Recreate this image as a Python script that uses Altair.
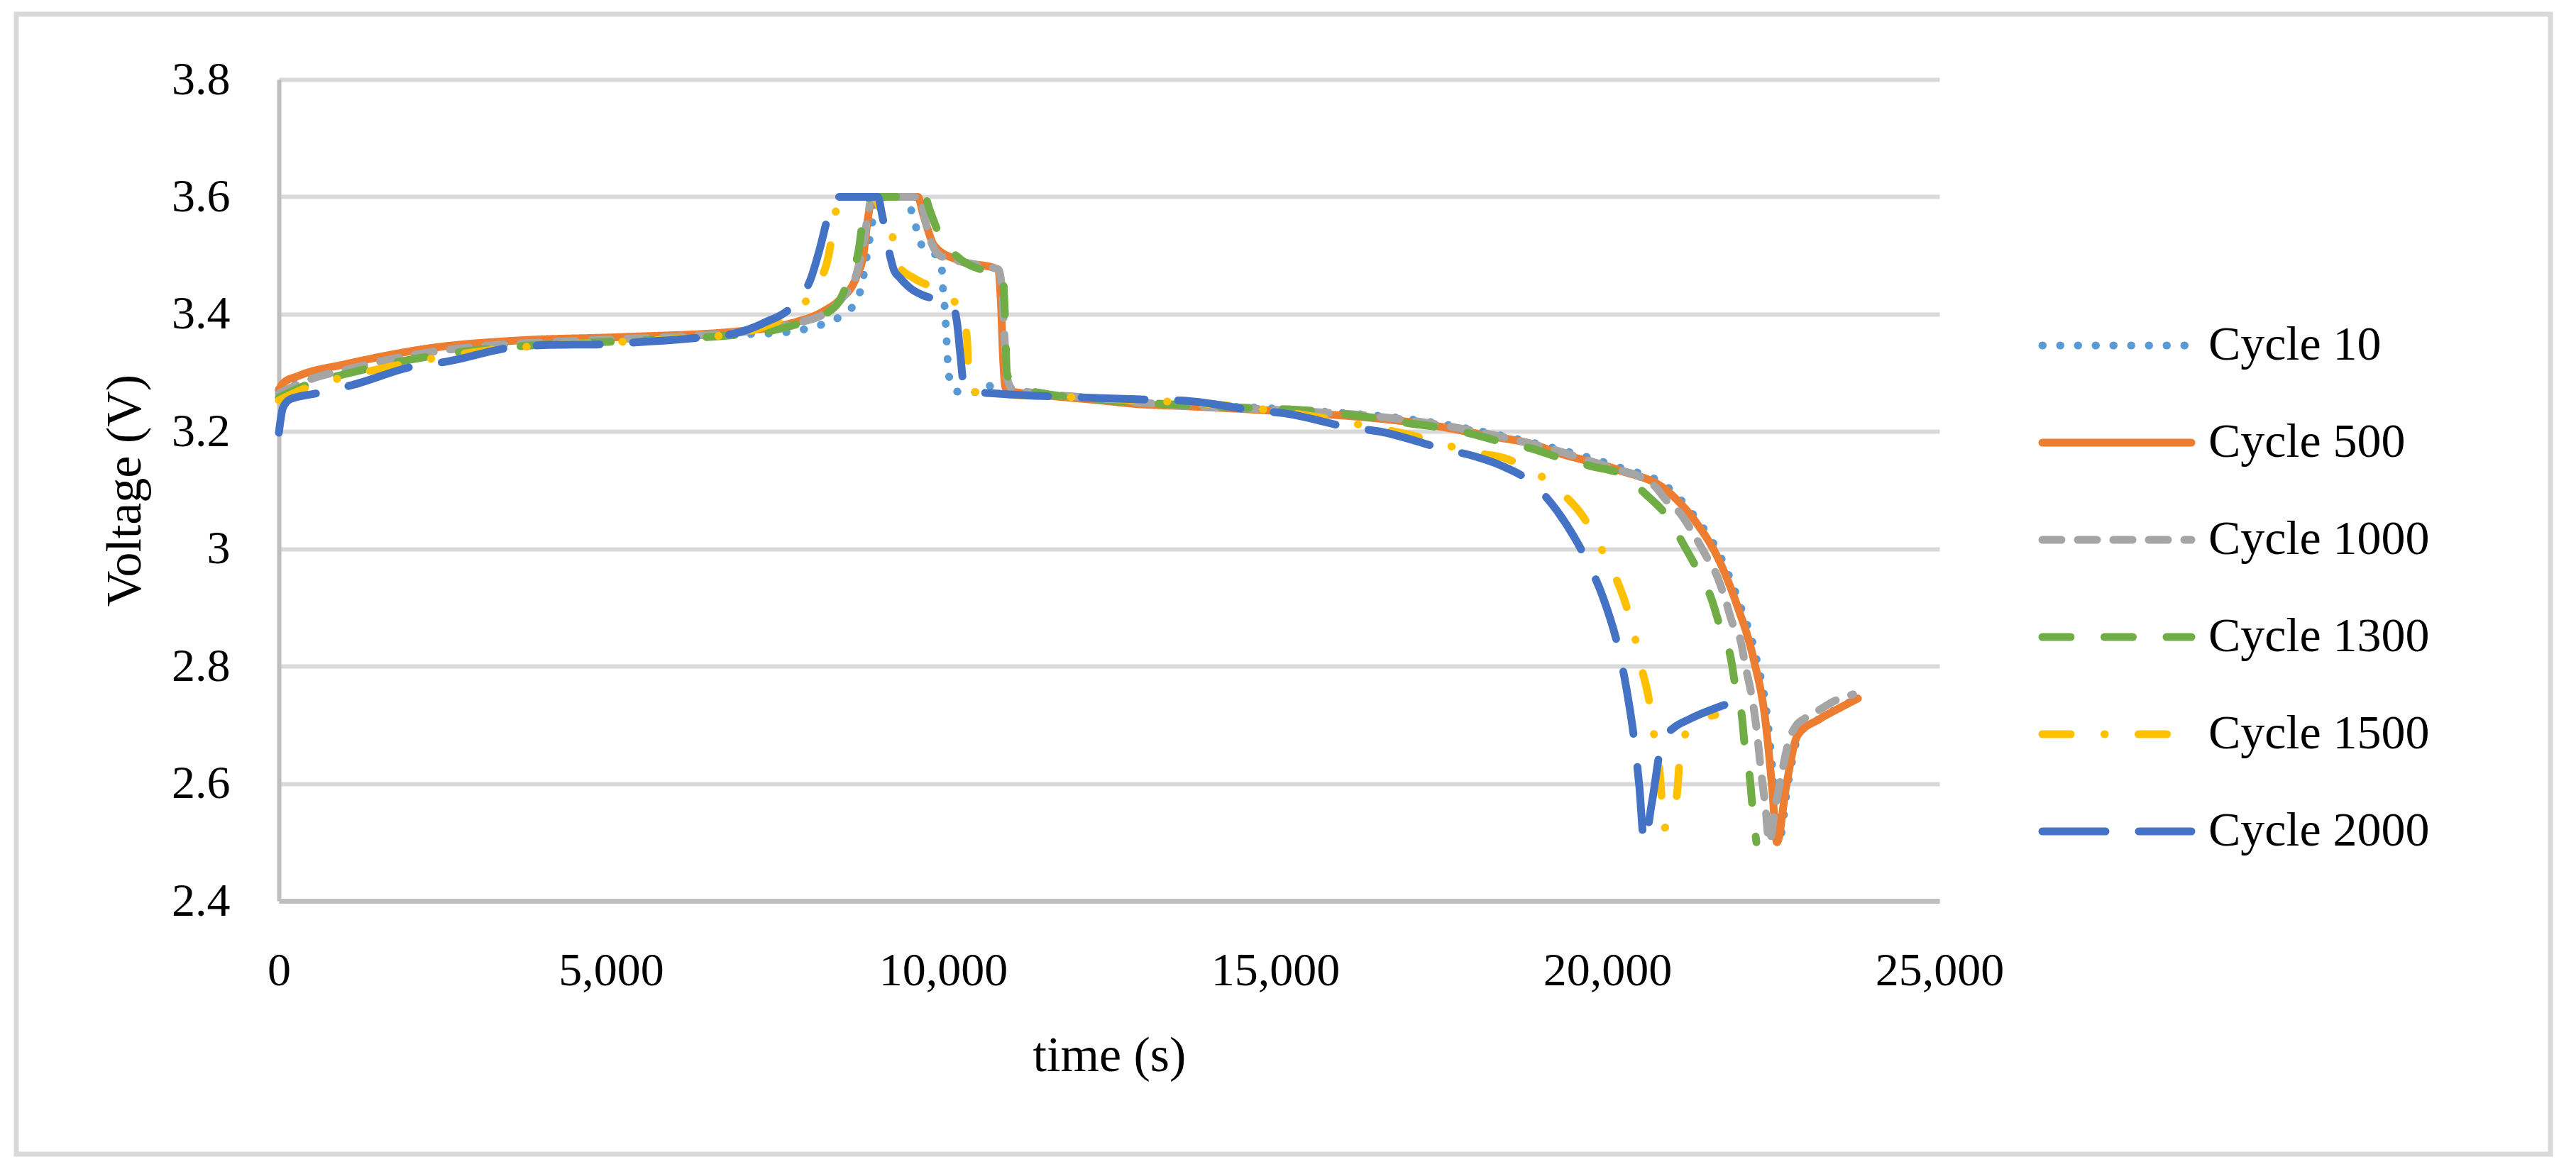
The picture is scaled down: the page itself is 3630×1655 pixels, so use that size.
import altair as alt
import pandas as pd

# ---------------- data ----------------
series_names = ["Cycle 10", "Cycle 500", "Cycle 1000", "Cycle 1300", "Cycle 1500", "Cycle 2000"]
series_colors = ["#5B9BD5", "#ED7D31", "#A5A5A5", "#70AD47", "#FFC000", "#4472C4"]
series_dashes = [[0.5, 24.5], [1, 0], [27, 23], [40, 47.5], [40, 47.5, 0.5, 47.5], [89, 47]]

x_ticks = [0, 5000, 10000, 15000, 20000, 25000]
y_ticks = [2.4, 2.6, 2.8, 3.0, 3.2, 3.4, 3.6, 3.8]

c10_t = [0, 200, 1000, 2000, 3000, 4000, 5000, 6000, 7000, 7373, 8195, 8440, 8654, 8761, 8810,
         8857, 8900, 8942, 8990, 9450, 9530, 9600, 9680, 9893, 9982, 9996, 10021, 10039, 10053,
         10067, 10089, 10207, 10474, 10652, 10791, 11100, 12361, 12896, 15139, 17394, 18238,
         19189, 20150, 20909, 21336, 21690, 21980, 22230, 22410, 22505, 22580, 22720, 22890,
         23220, 23500, 23790]
c10_v = [3.272, 3.288, 3.312, 3.335, 3.348, 3.353, 3.358, 3.362, 3.366, 3.367, 3.383, 3.395,
         3.416, 3.443, 3.47, 3.503, 3.533, 3.563, 3.6, 3.6, 3.573, 3.545, 3.517, 3.50, 3.475,
         3.446, 3.416, 3.384, 3.354, 3.324, 3.294, 3.268, 3.267, 3.28, 3.271, 3.265, 3.256, 3.25,
         3.238, 3.215, 3.197, 3.172, 3.14, 3.105, 3.052, 2.99, 2.91, 2.82, 2.71, 2.60, 2.50,
         2.60, 2.685, 2.712, 2.73, 2.747]

c500_t = [0, 60, 300, 1015, 2340, 3580, 5171, 6944, 7660, 8200, 8440, 8696, 8803, 8860, 8930,
          8980, 9620, 9700, 9872, 10225, 10831, 10870, 10905, 10940, 11050, 11500, 12361, 12896,
          13675, 15139, 17394, 18238, 18890, 19189, 20150, 20909, 21336, 21667, 21955, 22200,
          22383, 22479, 22554, 22693, 22864, 23196, 23484, 23772]
c500_v = [3.27, 3.282, 3.295, 3.315, 3.343, 3.355, 3.361, 3.371, 3.383, 3.405, 3.424, 3.464,
          3.504, 3.557, 3.597, 3.6, 3.6, 3.57, 3.516, 3.492, 3.476, 3.42, 3.32, 3.275, 3.268,
          3.262, 3.253, 3.247, 3.243, 3.234, 3.21, 3.192, 3.178, 3.166, 3.135, 3.098, 3.045,
          2.984, 2.903, 2.813, 2.704, 2.596, 2.50, 2.596, 2.682, 2.71, 2.728, 2.745]

c1000_t = [0, 500, 1000, 2000, 3000, 4000, 5000, 6000, 7000, 7800, 8200, 8500, 8700, 8800,
           8870, 8930, 9650, 9720, 9830, 9950, 10250, 10600, 10831, 10880, 10930, 10965, 11050,
           12361, 12896, 15139, 16500, 17394, 18238, 19189, 20150, 20428, 20738, 20855, 21100,
           21300, 21486, 21646, 21770, 21882, 22010, 22080, 22180, 22250, 22310, 22380, 22436,
           22530, 22630, 22740, 22850, 22960, 23228, 23388, 23700]
c1000_v = [3.265, 3.29, 3.305, 3.33, 3.345, 3.352, 3.357, 3.362, 3.37, 3.385, 3.40, 3.43, 3.47,
           3.52, 3.57, 3.6, 3.6, 3.565, 3.52, 3.50, 3.49, 3.482, 3.476, 3.45, 3.35, 3.29, 3.272,
           3.256, 3.25, 3.236, 3.226, 3.213, 3.195, 3.169, 3.135, 3.126, 3.104, 3.087, 3.06,
           3.025, 2.988, 2.955, 2.916, 2.874, 2.842, 2.80, 2.745, 2.69, 2.625, 2.56, 2.50, 2.56,
           2.62, 2.675, 2.70, 2.71, 2.728, 2.739, 2.752]

c1300_t = [0, 500, 1000, 2000, 3000, 4000, 5000, 6000, 7000, 7500, 7950, 8376, 8590, 8730,
           8800, 8850, 8900, 9723, 9800, 9936, 10257, 10652, 10898, 10930, 10960, 11047, 11500,
           12896, 14000, 15673, 16571, 17020, 17468, 17992, 18410, 18890, 19263, 19755, 20236,
           20578, 20909, 21144, 21358, 21570, 21700, 21860, 21934, 22030, 22073, 22148, 22190,
           22244]
c1300_v = [3.258, 3.283, 3.298, 3.323, 3.339, 3.348, 3.353, 3.358, 3.366, 3.374, 3.389, 3.413,
           3.462, 3.51, 3.567, 3.589, 3.6, 3.6, 3.577, 3.537, 3.494, 3.473, 3.464, 3.40, 3.30,
           3.279, 3.265, 3.25, 3.243, 3.234, 3.222, 3.214, 3.207, 3.195, 3.182, 3.17, 3.156,
           3.141, 3.126, 3.093, 3.054, 3.008, 2.964, 2.914, 2.866, 2.813, 2.761, 2.71, 2.658,
           2.607, 2.553, 2.50]

c1500_t = [0, 500, 1000, 2000, 3000, 4000, 5000, 6000, 7000, 7400, 7767, 8088, 8270, 8355,
           8430, 8960, 9050, 9188, 9295, 9360, 9552, 9990, 10250, 10300, 10363, 10385, 10450,
           10727, 12000, 13000, 14000, 15080, 16571, 17000, 17543, 17992, 18440, 18890, 19338,
           19616, 19883, 20118, 20268, 20407, 20524, 20620, 20695, 20780, 20815, 20850, 20940,
           21048, 21090, 21240, 21625]
c1500_v = [3.253, 3.278, 3.293, 3.318, 3.336, 3.347, 3.352, 3.358, 3.369, 3.383, 3.404, 3.448,
           3.497, 3.552, 3.6, 3.6, 3.58, 3.558, 3.50, 3.478, 3.462, 3.436, 3.41, 3.40, 3.352,
           3.292, 3.268, 3.265, 3.258, 3.253, 3.247, 3.234, 3.205, 3.195, 3.178, 3.164, 3.155,
           3.132, 3.093, 3.058, 3.006, 2.953, 2.909, 2.853, 2.793, 2.747, 2.689, 2.63, 2.58,
           2.524, 2.54, 2.581, 2.641, 2.697, 2.717]

c2000_t = [0, 60, 171, 566, 1100, 2030, 2520, 3494, 3930, 4957, 5395, 6421, 6860, 7300, 7746,
           8013, 8140, 8270, 8380, 9017, 9080, 9124, 9200, 9260, 9350, 9509, 9700, 9936, 10150,
           10210, 10260, 10310, 10400, 10759, 12896, 13686, 14690, 15139, 16122, 16571, 17543,
           17992, 18400, 18879, 19242, 19712, 19926, 20193, 20289, 20428, 20481, 20556, 20674,
           20834, 21000, 21240, 21763]
c2000_v = [3.198, 3.24, 3.255, 3.265, 3.279, 3.311, 3.319, 3.343, 3.347, 3.349, 3.352, 3.361,
           3.367, 3.385, 3.416, 3.462, 3.51, 3.567, 3.6, 3.6, 3.57, 3.545, 3.50, 3.475, 3.462,
           3.444, 3.432, 3.424, 3.413, 3.385, 3.33, 3.28, 3.268, 3.265, 3.255, 3.252, 3.236,
           3.231, 3.207, 3.20, 3.17, 3.158, 3.142, 3.111, 3.065, 2.975, 2.92, 2.817, 2.761,
           2.653, 2.596, 2.50, 2.57, 2.675, 2.695, 2.71, 2.734]

series_t = [c10_t, c500_t, c1000_t, c1300_t, c1500_t, c2000_t]
series_v = [c10_v, c500_v, c1000_v, c1300_v, c1500_v, c2000_v]

frames = []
for name, ts, vs in zip(series_names, series_t, series_v):
    frames.append(pd.DataFrame({"time": ts, "voltage": vs, "series": name}))
df = pd.concat(frames, ignore_index=True)
legend_df = pd.DataFrame({"series": series_names})

# ---------------- chart ----------------
FONT = "Liberation Serif"
PLOT_W, PLOT_H = 2340, 1158

color_scale = alt.Scale(domain=series_names, range=series_colors)
dash_scale = alt.Scale(domain=series_names, range=series_dashes)

lines = alt.Chart(df).mark_line(
    strokeWidth=11, strokeCap="round", strokeJoin="round", interpolate="monotone"
).encode(
    x=alt.X("time:Q", title="time (s)",
            scale=alt.Scale(domain=[0, 25000], nice=False, zero=False),
            axis=alt.Axis(values=x_ticks, format=",.0f", grid=False, ticks=False,
                          labelFlush=False, labelOverlap=False,
                          domainColor="#BFBFBF", domainWidth=7, labelPadding=66,
                          labelLimit=400, titlePadding=53)),
    y=alt.Y("voltage:Q", title="Voltage (V)",
            scale=alt.Scale(domain=[2.4, 3.8], nice=False, zero=False),
            axis=alt.Axis(values=y_ticks, format=".1~f", grid=True, ticks=False,
                          labelFlush=False, labelOverlap=False,
                          gridColor="#D9D9D9", gridWidth=6,
                          domainColor="#BFBFBF", domainWidth=6, labelPadding=69,
                          labelLimit=400, titlePadding=29)),
    color=alt.Color("series:N", scale=color_scale, legend=None),
    strokeDash=alt.StrokeDash("series:N", scale=dash_scale, legend=None),
)

# legend drawn as its own small layer: one row per series on a point scale
# (point scale keeps its default half-step padding, so rows land 137 px apart from y=375)
leg_y = alt.Y("series:N",
              scale=alt.Scale(domain=series_names, range=[306.5, 1128.5]),
              axis=None)
leg_rule = alt.Chart(legend_df).mark_rule(
    strokeWidth=11, strokeCap="round"
).encode(
    y=leg_y,
    x=alt.value(2485), x2=alt.value(2695),
    color=alt.Color("series:N", scale=color_scale, legend=None),
    strokeDash=alt.StrokeDash("series:N", scale=dash_scale, legend=None),
)
leg_text = alt.Chart(legend_df).mark_text(
    align="left", baseline="middle", font=FONT, fontSize=68, color="#000000"
).encode(
    y=leg_y,
    x=alt.value(2719),
    text="series:N",
)
legend_layer = alt.layer(leg_rule, leg_text)

border = alt.Chart(pd.DataFrame({"frame": [0]})).mark_rect(
    fillOpacity=0, stroke="#D9D9D9", strokeWidth=7
).encode(
    x=alt.value(-370), x2=alt.value(3201), y=alt.value(-92), y2=alt.value(1515)
)

chart = alt.layer(border, lines, legend_layer).resolve_scale(
    y="independent"
).properties(
    width=PLOT_W, height=PLOT_H,
    autosize=alt.AutoSizeParams(type="none"),
    padding={"left": 385, "top": 104, "right": 875, "bottom": 368},
    background="white",
).configure(
    font=FONT
).configure_axis(
    labelFont=FONT, labelFontSize=66, labelColor="#000000",
    titleFont=FONT, titleFontSize=70, titleFontWeight="normal", titleColor="#000000",
).configure_view(stroke=None)

chart.save("out.html", embed_options={"renderer": "svg", "actions": False})
